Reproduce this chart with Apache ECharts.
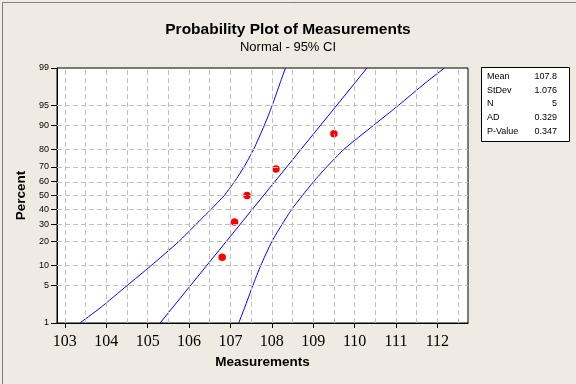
<!DOCTYPE html>
<html>
<head>
<meta charset="utf-8">
<script src="https://cdn.jsdelivr.net/npm/echarts@6/dist/echarts.min.js"></script>
<style>
html,body{margin:0;padding:0;background:#EFEBE2;}
#chart{width:576px;height:384px;}
</style>
</head>
<body>
<div id="chart"></div>
<script>
// ---- Data ----
const measurements = [106.8, 107.1, 107.4, 108.1, 109.5];
const pointPercents = [13, 31.5, 50, 68.5, 87];

const fitX = [105.3, 110.3];
const fitPercents = [1, 99];

const ciPercents = [1, 2, 5, 10, 20, 30, 40, 50, 60, 70, 80, 90, 95, 98, 99];
const ciLeftX  = [103.36, 103.85, 104.50, 105.08, 105.75, 106.17, 106.53, 106.85, 107.10, 107.33, 107.56, 107.82, 108.01, 108.20, 108.33];
const ciRightX = [107.20, 107.34, 107.54, 107.73, 108.00, 108.25, 108.48, 108.74, 109.01, 109.33, 109.74, 110.46, 111.06, 111.71, 112.17];

const xTicks = [103, 104, 105, 106, 107, 108, 109, 110, 111, 112];
const xGrid = [103, 103.5, 104, 104.5, 105, 105.5, 106, 106.5, 107, 107.5, 108, 108.5, 109, 109.5, 110, 110.5, 111, 111.5, 112, 112.5];
const yTickPercents = [1, 5, 10, 20, 30, 40, 50, 60, 70, 80, 90, 95, 99];
const yGridPercents = [5, 10, 20, 30, 40, 50, 60, 70, 80, 90, 95];

const statNames = ['Mean', 'StDev', 'N', 'AD', 'P-Value'];
const statValues = ['107.8', '1.076', '5', '0.329', '0.347'];

// ---- Normal probability axis transform (percent -> z) ----
function probit(p) {
  const a=[-3.969683028665376e+01,2.209460984245205e+02,-2.759285104469687e+02,1.383577518672690e+02,-3.066479806614716e+01,2.506628277459239e+00];
  const b=[-5.447609879822406e+01,1.615858368580409e+02,-1.556989798598866e+02,6.680131188771972e+01,-1.328068155288572e+01];
  const c=[-7.784894002430293e-03,-3.223964580411365e-01,-2.400758277161838e+00,-2.549732539343734e+00,4.374664141464968e+00,2.938163982698783e+00];
  const d=[7.784695709041462e-03,3.224671290700398e-01,2.445134137142996e+00,3.754408661907416e+00];
  const pl=0.02425, ph=1-pl; let q, r;
  if (p < pl) { q=Math.sqrt(-2*Math.log(p)); return (((((c[0]*q+c[1])*q+c[2])*q+c[3])*q+c[4])*q+c[5])/((((d[0]*q+d[1])*q+d[2])*q+d[3])*q+1); }
  if (p <= ph) { q=p-0.5; r=q*q; return (((((a[0]*r+a[1])*r+a[2])*r+a[3])*r+a[4])*r+a[5])*q/(((((b[0]*r+b[1])*r+b[2])*r+b[3])*r+b[4])*r+1); }
  q=Math.sqrt(-2*Math.log(1-p)); return -(((((c[0]*q+c[1])*q+c[2])*q+c[3])*q+c[4])*q+c[5])/((((d[0]*q+d[1])*q+d[2])*q+d[3])*q+1);
}
const zOf = pct => probit(pct / 100);

const yTickZ = yTickPercents.map(zOf);
function pctLabel(v) {
  for (let i = 0; i < yTickZ.length; i++) if (Math.abs(yTickZ[i] - v) < 1e-6) return String(yTickPercents[i]);
  return '';
}

const pointData = measurements.map((x, i) => [x, zOf(pointPercents[i])]);
const fitData = fitX.map((x, i) => [x, zOf(fitPercents[i])]);
const leftData = ciLeftX.map((x, i) => [x, zOf(ciPercents[i])]);
const rightData = ciRightX.map((x, i) => [x, zOf(ciPercents[i])]);

const gridLines = xGrid.map(v => ({xAxis: v})).concat(yGridPercents.map(p => ({yAxis: zOf(p)})));

const sans = 'Liberation Sans';
const statText = [];
statNames.forEach((n, i) => {
  statText.push({type:'text', left: 487, top: 72 + i*13.65, style:{text:n, fontSize:9, fontFamily:sans, fill:'#000'}});
  statText.push({type:'text', right: 576-557, top: 72 + i*13.65, style:{text:statValues[i], fontSize:9, fontFamily:sans, fill:'#000', align:'right'}});
});

const chart = echarts.init(document.getElementById('chart'), null, {renderer:'canvas'});
chart.setOption({
  animation: false,
  backgroundColor: '#EFEBE2',
  title: [
    {text: 'Probability Plot of Measurements', left: 'center', top: 17,
     textStyle: {fontSize: 15.5, fontWeight: 'bold', fontFamily: sans, color: '#000'}},
    {text: 'Normal - 95% CI', left: 'center', top: 36,
     textStyle: {fontSize: 13, fontWeight: 'normal', fontFamily: sans, color: '#000'}}
  ],
  grid: {left: 57, top: 68, width: 411, height: 255, show: true, backgroundColor: '#fff', borderColor: '#000', borderWidth: 1},
  xAxis: {
    type: 'value', min: 102.81, max: 112.74,
    name: 'Measurements', nameLocation: 'middle', nameGap: 32,
    nameTextStyle: {fontSize: 13.5, fontWeight: 'bold', fontFamily: sans, color: '#000'},
    axisLine: {show: true, onZero: false, lineStyle: {color: '#000'}},
    axisTick: {show: true, length: 5, customValues: xTicks, lineStyle: {color: '#000'}},
    axisLabel: {customValues: xTicks, margin: 11, fontSize: 16, fontFamily: 'Liberation Serif', color: '#000'},
    splitLine: {show: false}
  },
  yAxis: {
    type: 'value', min: zOf(1), max: zOf(99),
    name: 'Percent', nameLocation: 'middle', nameGap: 23, nameRotate: 90,
    nameTextStyle: {fontSize: 13.5, fontWeight: 'bold', fontFamily: sans, color: '#000'},
    axisLine: {show: true, onZero: false, lineStyle: {color: '#000'}},
    axisTick: {show: true, length: 6, customValues: yTickZ, lineStyle: {color: '#000'}},
    axisLabel: {customValues: yTickZ, margin: 8, fontSize: 9, fontFamily: sans, color: '#000', formatter: pctLabel},
    splitLine: {show: false}
  },
  graphic: [
    {type: 'rect', left: 0, top: 0, shape: {x: 0.5, y: 0.5, width: 575, height: 383}, style: {fill: 'none', stroke: '#808080', lineWidth: 1}, silent: true},
    {type: 'rect', shape: {x: 481.5, y: 67.5, width: 88, height: 74}, style: {fill: '#fff', stroke: '#000', lineWidth: 1}, silent: true}
  ].concat(statText),
  series: [
    {type: 'line', data: [], silent: true, z: 1,
     markLine: {silent: true, symbol: 'none', label: {show: false},
       lineStyle: {color: '#C0C0C0', type: [5, 3], width: 1}, emphasis: {disabled: true}, data: gridLines}},
    {type: 'line', data: fitData, showSymbol: false, lineStyle: {color: '#0000FF', width: 1}, z: 3},
    {type: 'line', data: leftData, showSymbol: false, smooth: 0.2, lineStyle: {color: '#0000FF', width: 1}, z: 3},
    {type: 'line', data: rightData, showSymbol: false, smooth: 0.2, lineStyle: {color: '#0000FF', width: 1}, z: 3},
    {type: 'scatter', data: pointData, symbol: 'circle', symbolSize: 7.5, itemStyle: {color: '#FF0000', opacity: 1, borderWidth: 0}, z: 4}
  ]
});
</script>
</body>
</html>
